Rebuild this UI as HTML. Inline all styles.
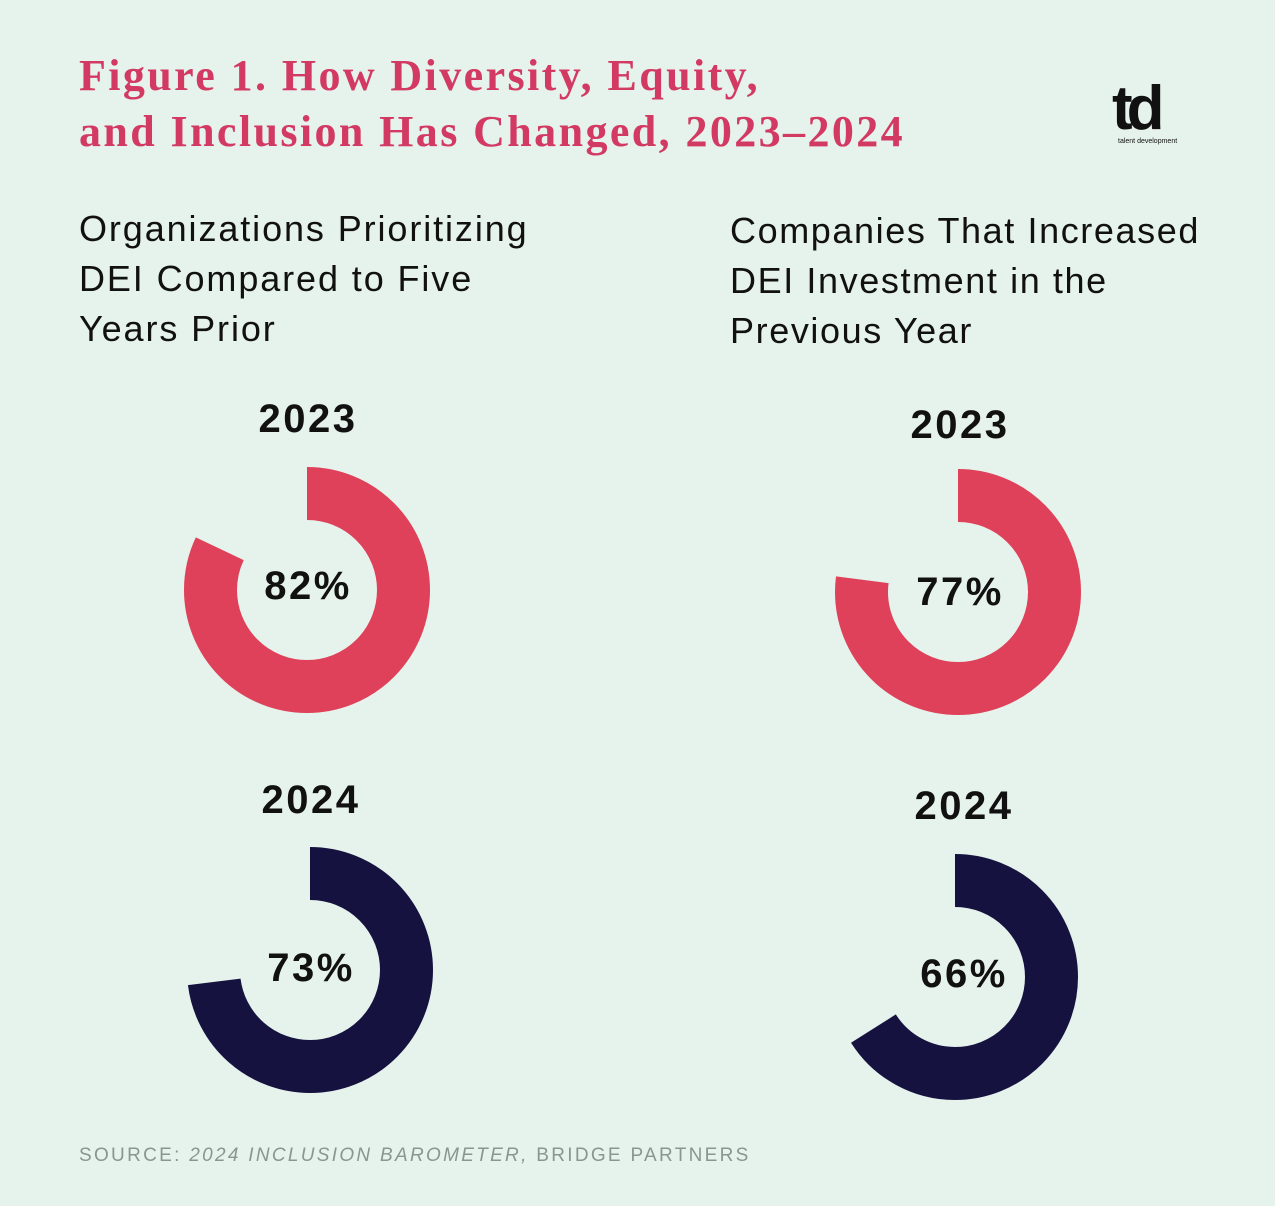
<!DOCTYPE html>
<html><head><meta charset="utf-8"><style>
body{margin:0;background:#e6f2ec;}
.w{position:relative;width:1275px;height:1206px;background:#e6f2ec;font-family:"Liberation Sans",sans-serif;overflow:hidden}
.t{position:absolute;left:79px;top:48px;font-family:"Liberation Serif",serif;font-weight:bold;font-size:44px;line-height:56px;letter-spacing:2.4px;color:#d33a63;white-space:nowrap}
.h{position:absolute;font-size:36px;line-height:50px;color:#111;letter-spacing:1.9px;white-space:nowrap}
.src{position:absolute;left:79px;top:1145px;font-size:19px;letter-spacing:2.3px;color:#8a9590}
</style></head><body><div class="w">
<div class="t">Figure 1. How Diversity, Equity,<br>and Inclusion Has Changed, 2023–2024</div>
<div style="position:absolute;left:1112px;top:78px;font-size:62px;font-weight:bold;letter-spacing:-6px;color:#111;line-height:62px">td</div>
<div style="position:absolute;left:1118px;top:138px;font-size:7px;color:#111">talent development</div>
<div class="h" style="left:79px;top:204px">Organizations Prioritizing<br>DEI Compared to Five<br>Years Prior</div>
<div class="h" style="left:730px;top:206px;letter-spacing:1.6px">Companies That Increased<br>DEI Investment in the<br>Previous Year</div>
<svg width="1275" height="1206" style="position:absolute;left:0;top:0" font-family="Liberation Sans, sans-serif" font-weight="bold" text-anchor="middle" fill="#111">
<g fill="none" stroke-width="53">
<circle cx="307" cy="590" r="96.5" stroke="#de4159" stroke-dasharray="497.2 1000" transform="rotate(-90 307 590)"/>
<circle cx="958" cy="592" r="96.5" stroke="#de4159" stroke-dasharray="466.9 1000" transform="rotate(-90 958 592)"/>
<circle cx="310" cy="970" r="96.5" stroke="#15123f" stroke-dasharray="442.6 1000" transform="rotate(-90 310 970)"/>
<circle cx="955" cy="977" r="96.5" stroke="#15123f" stroke-dasharray="400.2 1000" transform="rotate(-90 955 977)"/>
</g>
<g font-size="40" letter-spacing="2.5">
<text x="308" y="432">2023</text><text x="960" y="438">2023</text>
<text x="311" y="813">2024</text><text x="964" y="819">2024</text>
<text x="308" y="599">82%</text><text x="960" y="605">77%</text>
<text x="311" y="981">73%</text><text x="964" y="987">66%</text>
</g></svg>
<div class="src">SOURCE: <i>2024 INCLUSION BAROMETER,</i> BRIDGE PARTNERS</div>
</div></body></html>
